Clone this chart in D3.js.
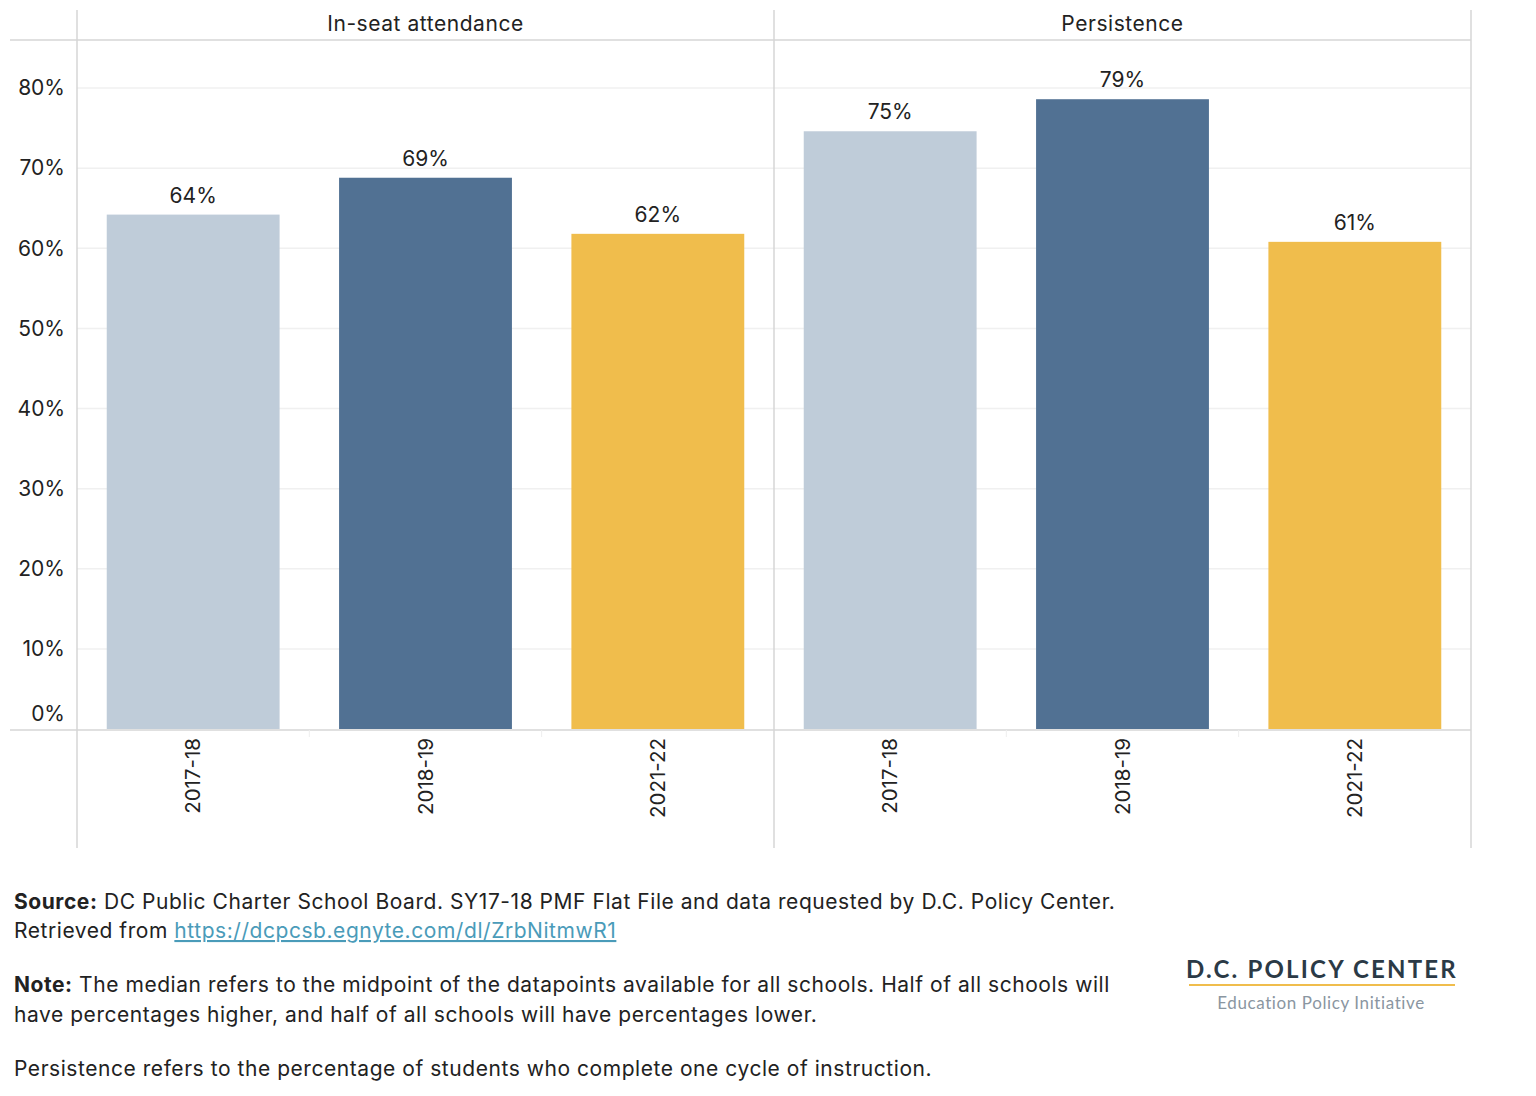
<!DOCTYPE html>
<html><head><meta charset="utf-8">
<script src="https://cdn.jsdelivr.net/npm/d3@7"></script>
<style>
html,body{margin:0;padding:0;background:#fff;}
svg{display:block;font-family:Inter,"Open Sans",sans-serif;}
</style></head>
<body>
<svg id="chart" width="1536" height="1096"></svg>
<script>
const panels = ["In-seat attendance", "Persistence"];
const years = ["2017-18", "2018-19", "2021-22"];
const attendance = [0.642, 0.688, 0.618];
const persistence = [0.746, 0.786, 0.608];
const yTicks = [0, 0.1, 0.2, 0.3, 0.4, 0.5, 0.6, 0.7, 0.8];
const colors = ["#BFCCD9", "#517193", "#F0BD4C"];
const seriesByPanel = [attendance, persistence];

const svg = d3.select("#chart");
const left = 10, axisX = 77, right = 1471, headerTop = 10, headerLine = 40, bottomLine = 729, frameBottom = 848;
const FS = 21;
const LS = 0.55;

const y = d3.scaleLinear().domain([0, 0.8]).range([bottomLine, 88]);
const px = d3.scaleBand().domain(panels).range([axisX, right]);

// gridlines
svg.append("g").selectAll("line").data(yTicks.filter(d => d > 0)).join("line")
  .attr("x1", axisX).attr("x2", right)
  .attr("y1", d => y(d)).attr("y2", d => y(d))
  .attr("stroke", "#f0f0f0").attr("stroke-width", 1.5);

// y tick labels
svg.append("g").selectAll("text").data(yTicks).join("text")
  .attr("x", 65).attr("y", d => d === 0 ? y(d) - 15 : y(d))
  .attr("dy", "0.35em").attr("text-anchor", "end")
  .attr("font-size", FS).attr("fill", "#222")
  .text(d3.format(".0%"));

// frame lines
const frame = svg.append("g").attr("stroke", "#d6d6d6").attr("stroke-width", 1.5);
frame.append("line").attr("x1", left).attr("x2", right).attr("y1", headerLine).attr("y2", headerLine);
frame.append("line").attr("x1", left).attr("x2", right).attr("y1", bottomLine + 1).attr("y2", bottomLine + 1);
[axisX, ...panels.map(p => px(p) + px.bandwidth())].forEach(xv => {
  frame.append("line").attr("x1", xv).attr("x2", xv).attr("y1", headerTop).attr("y2", frameBottom);
});

panels.forEach((p, i) => {
  const x0 = px(p), x1 = px(p) + px.bandwidth();
  const x = d3.scaleBand().domain(years).range([x0, x1]).paddingInner(0.256).paddingOuter(0.128);
  const g = svg.append("g");
  g.append("text").attr("x", (x0 + x1) / 2).attr("y", 24).attr("dy", "0.35em")
    .attr("text-anchor", "middle").attr("font-size", FS).attr("letter-spacing", LS)
    .attr("fill", "#222").text(p);
  const vals = seriesByPanel[i];
  g.selectAll("rect").data(years).join("rect")
    .attr("x", d => x(d)).attr("width", x.bandwidth())
    .attr("y", (d, j) => y(vals[j])).attr("height", (d, j) => y(0) - y(vals[j]))
    .attr("fill", (d, j) => colors[j]);
  g.selectAll("text.val").data(years).join("text").attr("class", "val")
    .attr("x", d => x(d) + x.bandwidth() / 2).attr("y", (d, j) => y(vals[j]) - 12)
    .attr("text-anchor", "middle").attr("font-size", FS).attr("fill", "#222")
    .text((d, j) => d3.format(".0%")(vals[j]));
  years.slice(1).forEach(d => {
    const xv = x(d) - x.step() * x.paddingInner() / 2;
    g.append("line").attr("x1", xv).attr("x2", xv).attr("y1", bottomLine + 1).attr("y2", bottomLine + 8)
      .attr("stroke", "#eeeeee").attr("stroke-width", 1);
  });
  g.selectAll("text.xl").data(years).join("text").attr("class", "xl")
    .attr("transform", d => `translate(${x(d) + x.bandwidth() / 2},738) rotate(-90)`)
    .attr("dy", "0.35em").attr("text-anchor", "end")
    .attr("font-size", 20.5).attr("fill", "#222").text(d => d);
});

// footer text
const foot = svg.append("g").attr("font-size", FS).attr("letter-spacing", LS).attr("fill", "#222");
const t1 = foot.append("text").attr("x", 14).attr("y", 909);
t1.append("tspan").attr("font-weight", "bold").text("Source:");
t1.append("tspan").text(" DC Public Charter School Board. SY17-18 PMF Flat File and data requested by D.C. Policy Center.");
const t2 = foot.append("text").attr("x", 14).attr("y", 938);
t2.append("tspan").text("Retrieved from ");
t2.append("tspan").attr("fill", "#4a9bb9").attr("text-decoration", "underline").text("https://dcpcsb.egnyte.com/dl/ZrbNitmwR1");
const t3 = foot.append("text").attr("x", 14).attr("y", 992);
t3.append("tspan").attr("font-weight", "bold").text("Note:");
t3.append("tspan").text(" The median refers to the midpoint of the datapoints available for all schools. Half of all schools will");
foot.append("text").attr("x", 14).attr("y", 1022).text("have percentages higher, and half of all schools will have percentages lower.");
foot.append("text").attr("x", 14).attr("y", 1076).text("Persistence refers to the percentage of students who complete one cycle of instruction.");

// logo
const logo = svg.append("g").attr("font-family", "Lato, sans-serif");
logo.append("text").attr("x", 1322).attr("y", 978).attr("text-anchor", "middle")
  .attr("font-size", 24).attr("font-weight", "bold").attr("letter-spacing", 2.2).attr("fill", "#2b3a46")
  .text("D.C. POLICY CENTER");
logo.append("line").attr("x1", 1189).attr("x2", 1455).attr("y1", 985).attr("y2", 985)
  .attr("stroke", "#F0BD4C").attr("stroke-width", 2);
logo.append("text").attr("x", 1321).attr("y", 1009).attr("text-anchor", "middle")
  .attr("font-size", 17).attr("letter-spacing", 0.6).attr("fill", "#8a96a1").text("Education Policy Initiative");
</script>
</body></html>
